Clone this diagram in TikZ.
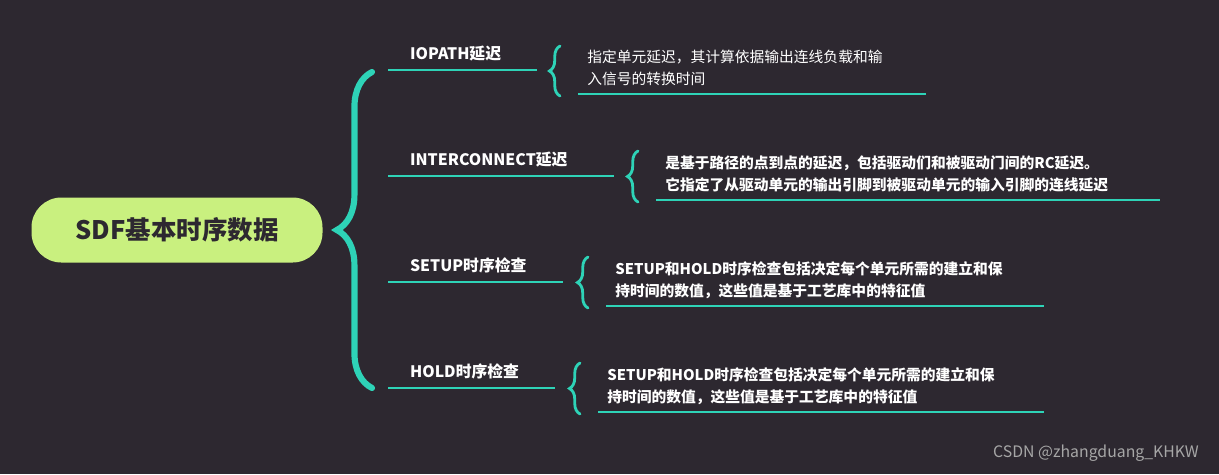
\documentclass[tikz,border=0pt]{standalone}
\usepackage{fontspec}
\setmainfont{Noto Sans CJK SC}
\usetikzlibrary{decorations.pathreplacing}
\definecolor{bg}{HTML}{2D2830}
\definecolor{teal}{HTML}{2ED3B7}
\definecolor{lime}{HTML}{C9F07F}
\begin{document}
\begin{tikzpicture}[x=0.02cm,y=-0.02cm,
  ul/.style={teal,line width=1.6pt},
  br/.style={teal,line width=1.6pt,line cap=round,decorate,decoration={brace,amplitude=6pt}},
  head/.style={anchor=south west,text=white,font=\fontsize{9}{10}\selectfont\bfseries,inner sep=1pt},
  desc/.style={anchor=west,text=white,font=\fontsize{8.4}{12.5}\selectfont,align=left,inner sep=0pt}]
\fill[bg] (0,0) rectangle (1219,474);
\node[fill=lime,rounded corners=17pt,minimum width=291*0.02cm,minimum height=65*0.02cm,font=\fontsize{14.5}{16}\selectfont\bfseries,text=bg] (root) at (177,230) {SDF基本时序数据};
\draw[teal,line width=3.5pt,line cap=round,decorate,decoration={brace,amplitude=20pt}] (372,388) -- (372,72);
% branches
\foreach \i/\y/\len/\t in {1/70/537/IOPATH延迟,2/176/614/INTERCONNECT延迟,3/282/563/SETUP时序检查,4/388/555/HOLD时序检查}{
  \coordinate (s\i) at (388,\y);
  \coordinate (e\i) at (\len,\y);
  \draw[ul] (s\i) -- (e\i);
  \node[head] (h\i) at (408,\y-7) {\t};
}
% descriptions
\coordinate (a1) at (578,94); \coordinate (b1) at (926,94);
\draw[ul] (a1) -- (b1);
\draw[br] (560,96) -- (560,46);
\node[desc] (d1) at (587,68) {指定单元延迟，其计算依据输出连线负载和输\\入信号的转换时间};
\coordinate (a2) at (656,200); \coordinate (b2) at (1160,200);
\draw[ul] (a2) -- (b2);
\draw[br] (638,202) -- (638,151);
\node[desc,font=\fontsize{8.4}{12.5}\selectfont\bfseries] (d2) at (665,174) {是基于路径的点到点的延迟，包括驱动们和被驱动门间的RC延迟。\\它指定了从驱动单元的输出引脚到被驱动单元的输入引脚的连线延迟};
\coordinate (a3) at (606,306); \coordinate (b3) at (1044,306);
\draw[ul] (a3) -- (b3);
\draw[br] (588,308) -- (588,257);
\node[desc,font=\fontsize{8.4}{12.5}\selectfont\bfseries] (d3) at (615,280) {SETUP和HOLD时序检查包括决定每个单元所需的建立和保\\持时间的数值，这些值是基于工艺库中的特征值};
\coordinate (a4) at (598,412); \coordinate (b4) at (1044,412);
\draw[ul] (a4) -- (b4);
\draw[br] (580,414) -- (580,363);
\node[desc,font=\fontsize{8.4}{12.5}\selectfont\bfseries] (d4) at (607,386) {SETUP和HOLD时序检查包括决定每个单元所需的建立和保\\持时间的数值，这些值是基于工艺库中的特征值};
\node[anchor=east,text=gray!70,font=\fontsize{9}{10}\selectfont] (wm) at (1205,453) {CSDN @zhangduang\_KHKW};
\end{tikzpicture}
\end{document}
